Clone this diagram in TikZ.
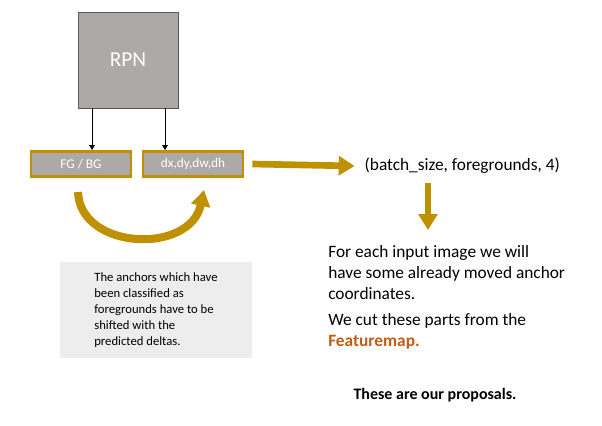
\documentclass[tikz,border=0pt]{standalone}
\usepackage{fontspec}
\setmainfont{Carlito}
\usetikzlibrary{arrows.meta, positioning, calc}
\definecolor{boxgray}{HTML}{ADA9A8}
\definecolor{gold}{HTML}{BF9000}
\definecolor{notegray}{HTML}{EDEDED}
\definecolor{featorange}{HTML}{C55A11}
\tikzset{
  netblock/.style={
    rectangle, draw=gray!70!black, fill=boxgray, text=white,
    minimum width=75pt, minimum height=72pt, font=\fontsize{16}{18}\selectfont
  },
  outblock/.style={
    rectangle, draw=gold, line width=2pt, fill=boxgray, text=white,
    minimum width=75pt, minimum height=19pt, font=\fontsize{10}{12}\selectfont
  },
  thinarrow/.style={
    ->, >=Triangle, thin
  },
  goldarrow/.style={
    draw=gold, line width=5pt, -{Triangle[length=12pt,width=14pt]}
  }
}

\begin{document}
\begin{tikzpicture}[x=0.75pt, y=-0.75pt]
  \useasboundingbox (0,0) rectangle (602,425);
  \node[netblock] (rpn) at (128,60) {RPN};
  \node[outblock] (fgbg) at (81,164) {FG / BG};
  \node[outblock] (deltas) at (193,164) {dx,dy,dw,dh};
  \node[font=\fontsize{13}{15}\selectfont, anchor=west] (shape) at (360,166) {(batch\_size, foregrounds, 4)};
  \node[fill=notegray, minimum width=144pt, minimum height=72pt, align=left,
        font=\fontsize{9.5}{12}\selectfont] (note) at (156,310)
    {The anchors which have\\ been classified as\\ foregrounds have to be\\ shifted with the\\ predicted deltas.};
  \node[font=\fontsize{13}{16}\selectfont, anchor=north west, align=left, inner sep=0pt] (text) at (328,245)
    {For each input image we will\\ have some already moved anchor\\ coordinates.\\[3pt]
     We cut these parts from the\\ \textbf{\color{featorange}Featuremap.}};
  \node[font=\fontsize{12}{14}\selectfont\bfseries] (proposals) at (435,395) {These are our proposals.};

  \coordinate (c1) at (92,108);
  \coordinate (c2) at (165,108);
  \draw[thinarrow] (c1) -- (c1 |- fgbg.north);
  \draw[thinarrow] (c2) -- (c2 |- deltas.north);
  \draw[goldarrow] ($(deltas.east)+(6pt,0)$) -- ($(shape.west)+(-4pt,0)$);
  \draw[goldarrow] (428,183) -- (428,230);
  \coordinate (s) at (78,192);
  \coordinate (e) at (204,190);
  \draw[goldarrow, line width=6pt] (s) .. controls (80,250) and (190,255) .. (e);
\end{tikzpicture}
\end{document}
